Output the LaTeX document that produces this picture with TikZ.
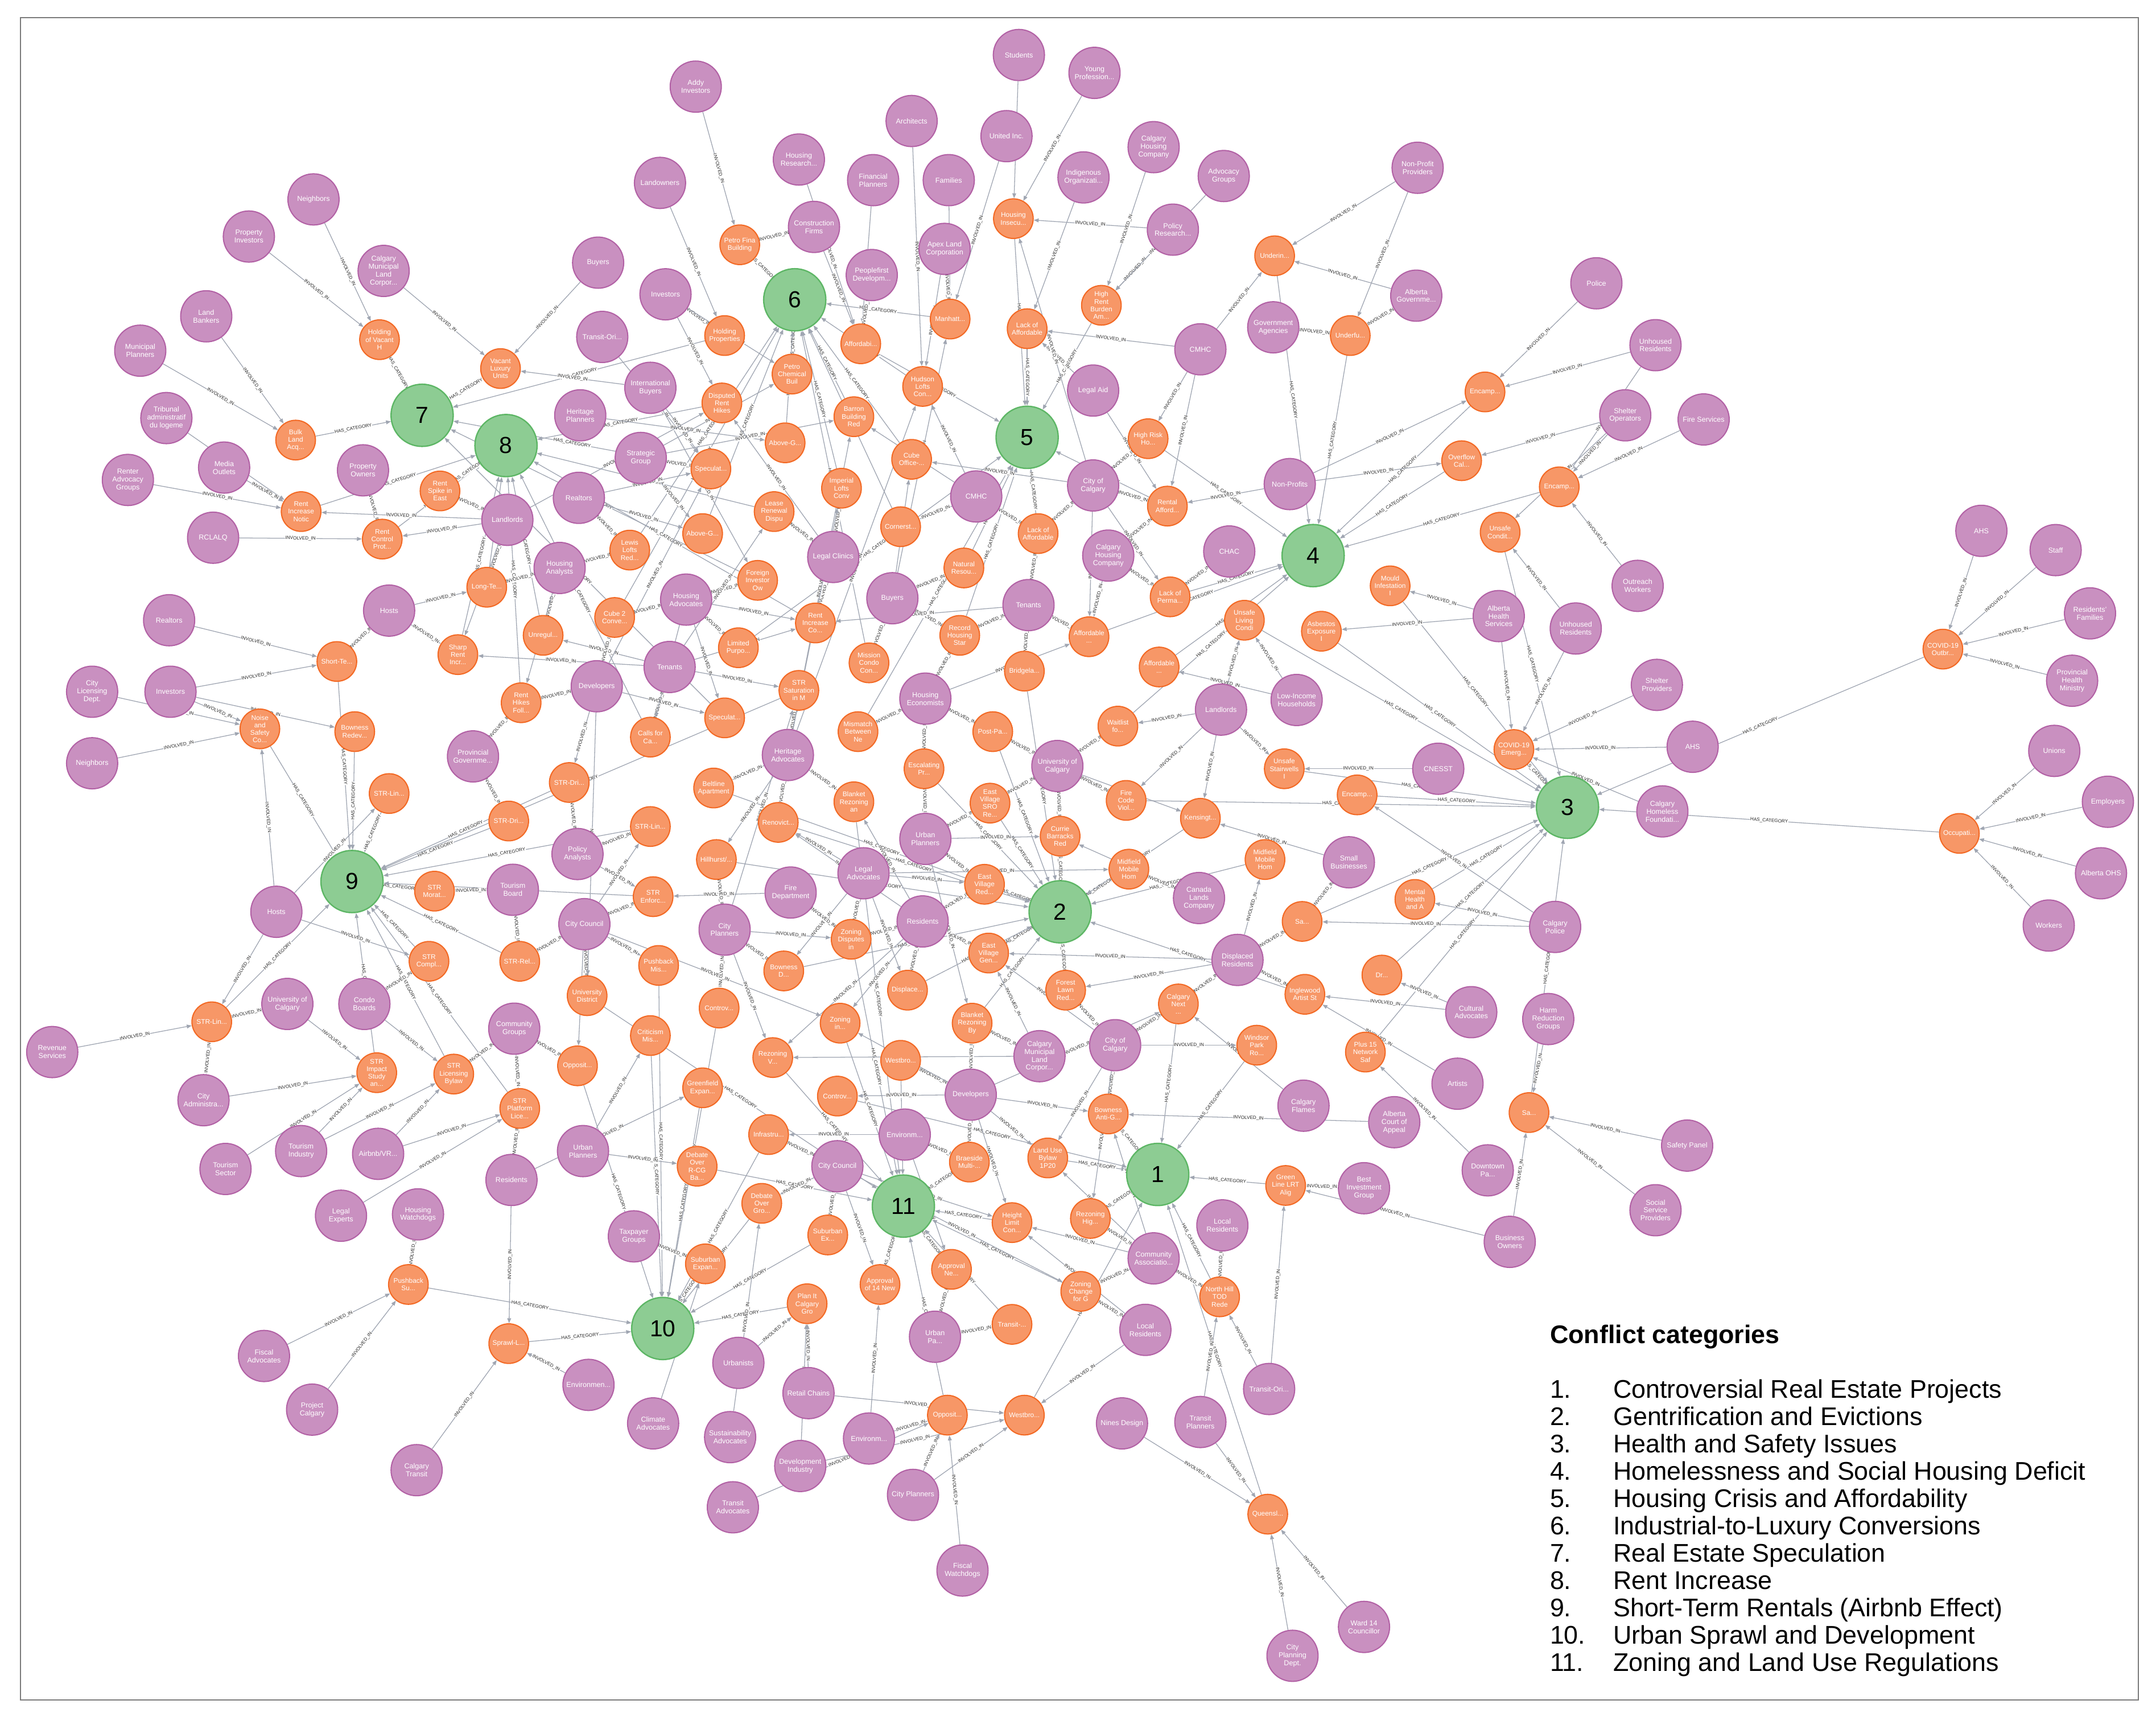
\documentclass[tikz,border=0pt]{standalone}
\usepackage{fontspec}
\setmainfont{Liberation Sans}
\usetikzlibrary{arrows.meta, backgrounds}

\definecolor{ppfill}{HTML}{C990C0}
\definecolor{ppline}{HTML}{B261A5}
\definecolor{oofill}{HTML}{F79767}
\definecolor{ooline}{HTML}{F36924}
\definecolor{catfill}{HTML}{8DCC93}
\definecolor{catline}{HTML}{5DB665}
\definecolor{edgecol}{HTML}{A0A6B2}
\definecolor{framecol}{HTML}{7A7A7A}

\begin{document}
\begin{tikzpicture}[
  x=0.025cm, y=-0.025cm,
  pp/.style={circle, draw=ppline, fill=ppfill, line width=0.6pt, minimum size=9.3mm,
    inner sep=-1.5pt, text=white, align=center, font=\fontsize{3.7}{4.1}\selectfont},
  oo/.style={circle, draw=ooline, fill=oofill, line width=0.6pt, minimum size=7.2mm,
    inner sep=-1.5pt, text=white, align=center, font=\fontsize{3.5}{3.9}\selectfont},
  cat/.style={circle, draw=catline, fill=catfill, line width=0.7pt, minimum size=11.3mm,
    inner sep=0pt, font=\fontsize{12}{12}\selectfont},
  link/.style={draw=edgecol, line width=0.38pt, -{Triangle[length=0.9mm, width=0.7mm]}},
  elbl/.style={sloped, fill=white, inner sep=0.2pt, text=black!85, font=\fontsize{2.4}{2.4}\selectfont},
  legtitle/.style={anchor=base west, inner sep=0pt, font=\fontsize{13.2}{15}\selectfont\bfseries},
  legtext/.style={anchor=base west, inner sep=0pt, font=\fontsize{13.2}{15}\selectfont}
]
\useasboundingbox (0,0) rectangle (1568,1254);
\draw[framecol, line width=0.6pt] (15,13) rectangle (1555,1236);

% categories
\node[cat] (c1) at (842,854) {1};
\node[cat] (c2) at (771,663) {2};
\node[cat] (c3) at (1140,587) {3};
\node[cat] (c4) at (955,404) {4};
\node[cat] (c5) at (747,318) {5};
\node[cat] (c6) at (578,218) {6};
\node[cat] (c7) at (307,302) {7};
\node[cat] (c8) at (368,324) {8};
\node[cat] (c9) at (256,641) {9};
\node[cat] (c10) at (482,966) {10};
\node[cat] (c11) at (657,877) {11};

% actors
\node[pp] (addy) at (506,63) {Addy\\Investors};
\node[pp] (students) at (741,40) {Students};
\node[pp] (youngprof) at (796,53) {Young\\Profession...};
\node[pp] (architects) at (663,88) {Architects};
\node[pp] (unitedinc) at (732,99) {United Inc.};
\node[pp] (housres) at (581,116) {Housing\\Research...};
\node[pp] (landowners) at (480,133) {Landowners};
\node[pp] (finplan) at (635,131) {Financial\\Planners};
\node[pp] (families) at (690,131) {Families};
\node[pp] (chcA) at (839,107) {Calgary\\Housing\\Company};
\node[pp] (indig) at (788,129) {Indigenous\\Organizati...};
\node[pp] (advoc) at (890,128) {Advocacy\\Groups};
\node[pp] (npprov) at (1031,122) {Non-Profit\\Providers};
\node[pp] (neighA) at (228,145) {Neighbors};
\node[pp] (propinv) at (181,172) {Property\\Investors};
\node[pp] (cmlcA) at (279,197) {Calgary\\Municipal\\Land\\Corpor...};
\node[pp] (polres) at (853,167) {Policy\\Research...};
\node[pp] (constr) at (592,165) {Construction\\Firms};
\node[pp] (peoplefirst) at (634,200) {Peoplefirst\\Developm...};
\node[pp] (apex) at (687,181) {Apex Land\\Corporation};
\node[pp] (buyersA) at (435,191) {Buyers};
\node[pp] (investA) at (484,214) {Investors};
\node[pp] (landbank) at (150,230) {Land\\Bankers};
\node[pp] (munplan) at (102,255) {Municipal\\Planners};
\node[pp] (tribunal) at (121,304) {Tribunal\\administratif\\du logeme};
\node[pp] (albgov) at (1030,215) {Alberta\\Governme...};
\node[pp] (govag) at (926,238) {Government\\Agencies};
\node[pp] (cmhcA) at (873,254) {CMHC};
\node[pp] (legalaid) at (795,284) {Legal Aid};
\node[pp] (transitA) at (438,245) {Transit-Ori...};
\node[pp] (intbuy) at (473,282) {International\\Buyers};
\node[pp] (herplan) at (422,302) {Heritage\\Planners};
\node[pp] (media) at (163,340) {Media\\Outlets};
\node[pp] (propown) at (264,342) {Property\\Owners};
\node[pp] (renteradv) at (93,349) {Renter\\Advocacy\\Groups};
\node[pp] (rclalq) at (155,391) {RCLALQ};
\node[pp] (landlordsA) at (369,378) {Landlords};
\node[pp] (realtorsA) at (421,362) {Realtors};
\node[pp] (strategic) at (466,333) {Strategic\\Group};
\node[pp] (cmhcB) at (710,361) {CMHC};
\node[pp] (legalclin) at (606,405) {Legal Clinics};
\node[pp] (cocA) at (795,353) {City of\\Calgary};
\node[pp] (nonprofits) at (938,352) {Non-Profits};
\node[pp] (chac) at (894,401) {CHAC};
\node[pp] (chcB) at (806,404) {Calgary\\Housing\\Company};
\node[pp] (police) at (1161,206) {Police};
\node[pp] (unhousedA) at (1204,251) {Unhoused\\Residents};
\node[pp] (shelterop) at (1182,302) {Shelter\\Operators};
\node[pp] (fireserv) at (1239,305) {Fire Services};
\node[pp] (ahsA) at (1441,386) {AHS};
\node[pp] (staff) at (1495,400) {Staff};
\node[pp] (outreach) at (1191,426) {Outreach\\Workers};
\node[pp] (unhousedB) at (1146,457) {Unhoused\\Residents};
\node[pp] (resfam) at (1520,446) {Residents'\\Families};
\node[pp] (provhealth) at (1507,495) {Provincial\\Health\\Ministry};
\node[pp] (shelterprov) at (1205,498) {Shelter\\Providers};
\node[pp] (ahsB) at (1231,543) {AHS};
\node[pp] (unions) at (1494,546) {Unions};
\node[pp] (employers) at (1533,583) {Employers};
\node[pp] (chf) at (1209,590) {Calgary\\Homeless\\Foundati...};
\node[pp] (albohs) at (1528,635) {Alberta OHS};
\node[pp] (workers) at (1490,673) {Workers};
\node[pp] (calpolice) at (1131,674) {Calgary\\Police};
\node[pp] (harmred) at (1126,741) {Harm\\Reduction\\Groups};
\node[pp] (ahsvc) at (1090,448) {Alberta\\Health\\Services};
\node[pp] (tenantsA) at (748,440) {Tenants};
\node[pp] (landlordsB) at (888,516) {Landlords};
\node[pp] (lowinc) at (943,509) {Low-Income\\Households};
\node[pp] (uofcA) at (769,557) {University of\\Calgary};
\node[pp] (cnesst) at (1046,559) {CNESST};
\node[pp] (smallbiz) at (981,627) {Small\\Businesses};
\node[pp] (canadalands) at (872,653) {Canada\\Lands\\Company};
\node[pp] (displaced) at (900,698) {Displaced\\Residents};
\node[pp] (cultadv) at (1070,736) {Cultural\\Advocates};
\node[pp] (cocB) at (811,760) {City of\\Calgary};
\node[pp] (cmlcB) at (756,768) {Calgary\\Municipal\\Land\\Corpor...};
\node[pp] (artists) at (1060,788) {Artists};
\node[pp] (flames) at (948,804) {Calgary\\Flames};
\node[pp] (housanal) at (407,413) {Housing\\Analysts};
\node[pp] (housadv) at (499,436) {Housing\\Advocates};
\node[pp] (buyersB) at (649,435) {Buyers};
\node[pp] (tenantsB) at (487,485) {Tenants};
\node[pp] (devA) at (434,499) {Developers};
\node[pp] (houseco) at (673,508) {Housing\\Economists};
\node[pp] (heritadv) at (573,549) {Heritage\\Advocates};
\node[pp] (urbplanA) at (673,610) {Urban\\Planners};
\node[pp] (polanal) at (420,621) {Policy\\Analysts};
\node[pp] (legaladv) at (628,635) {Legal\\Advocates};
\node[pp] (firedept) at (575,649) {Fire\\Department};
\node[pp] (citycouncilA) at (425,672) {City Council};
\node[pp] (cityplanA) at (527,676) {City\\Planners};
\node[pp] (residentsA) at (671,670) {Residents};
\node[pp] (devB) at (706,796) {Developers};
\node[pp] (hostsA) at (283,444) {Hosts};
\node[pp] (realtorsB) at (123,451) {Realtors};
\node[pp] (citylic) at (67,503) {City\\Licensing\\Dept.};
\node[pp] (investB) at (124,503) {Investors};
\node[pp] (neighB) at (67,555) {Neighbors};
\node[pp] (provgov) at (344,550) {Provincial\\Governme...};
\node[pp] (tourboard) at (373,647) {Tourism\\Board};
\node[pp] (hostsB) at (201,663) {Hosts};
\node[pp] (uofcB) at (209,730) {University of\\Calgary};
\node[pp] (condo) at (265,730) {Condo\\Boards};
\node[pp] (commgroups) at (374,748) {Community\\Groups};
\node[pp] (revenue) at (38,765) {Revenue\\Services};
\node[pp] (cityadmin) at (148,800) {City\\Administra...};
\node[pp] (tourind) at (219,837) {Tourism\\Industry};
\node[pp] (toursec) at (164,850) {Tourism\\Sector};
\node[pp] (airbnb) at (275,839) {Airbnb/VR...};
\node[pp] (residentsB) at (372,858) {Residents};
\node[pp] (legalexp) at (248,884) {Legal\\Experts};
\node[pp] (watchdogs) at (304,883) {Housing\\Watchdogs};
\node[pp] (fiscaladv) at (192,986) {Fiscal\\Advocates};
\node[pp] (projcal) at (227,1025) {Project\\Calgary};
\node[pp] (caltransit) at (303,1069) {Calgary\\Transit};
\node[pp] (envA) at (428,1007) {Environmen...};
\node[pp] (urbplanB) at (424,837) {Urban\\Planners};
\node[pp] (environmB) at (658,825) {Environm...};
\node[pp] (citycouncilB) at (609,848) {City Council};
\node[pp] (taxpayer) at (461,899) {Taxpayer\\Groups};
\node[pp] (urbanpa) at (680,972) {Urban\\Pa...};
\node[pp] (urbanists) at (537,991) {Urbanists};
\node[pp] (retail) at (588,1013) {Retail Chains};
\node[pp] (climate) at (475,1035) {Climate\\Advocates};
\node[pp] (sustain) at (531,1045) {Sustainability\\Advocates};
\node[pp] (environmC) at (632,1046) {Environm...};
\node[pp] (devind) at (582,1066) {Development\\Industry};
\node[pp] (cityplanB) at (664,1087) {City Planners};
\node[pp] (transitadv) at (533,1096) {Transit\\Advocates};
\node[pp] (fiscalwd) at (700,1142) {Fiscal\\Watchdogs};
\node[pp] (appeal) at (1014,816) {Alberta\\Court of\\Appeal};
\node[pp] (bestinv) at (992,864) {Best\\Investment\\Group};
\node[pp] (downtown) at (1082,851) {Downtown\\Pa...};
\node[pp] (bizowners) at (1098,903) {Business\\Owners};
\node[pp] (localresA) at (889,891) {Local\\Residents};
\node[pp] (commassoc) at (839,915) {Community\\Associatio...};
\node[pp] (localresB) at (833,967) {Local\\Residents};
\node[pp] (transitB) at (923,1010) {Transit-Ori...};
\node[pp] (nines) at (816,1035) {Nines Design};
\node[pp] (transplan) at (873,1034) {Transit\\Planners};
\node[pp] (ward14) at (992,1183) {Ward 14\\Councillor};
\node[pp] (cpd) at (940,1204) {City\\Planning\\Dept.};
\node[pp] (safety) at (1227,833) {Safety Panel};
\node[pp] (socserv) at (1204,880) {Social\\Service\\Providers};

% conflicts
\node[oo] (petrofina) at (538,178) {Petro Fina\\Building};
\node[oo] (housinsec) at (737,159) {Housing\\Insecu...};
\node[oo] (holdvac) at (276,247) {Holding\\of Vacant\\H};
\node[oo] (vaclux) at (364,268) {Vacant\\Luxury\\Units};
\node[oo] (underin) at (927,186) {Underin...};
\node[oo] (underfu) at (982,244) {Underfu...};
\node[oo] (highrent) at (801,222) {High\\Rent\\Burden\\Am...};
\node[oo] (lackaffA) at (747,239) {Lack of\\Affordable};
\node[oo] (manhatt) at (691,232) {Manhatt...};
\node[oo] (affordabi) at (626,250) {Affordabi...};
\node[oo] (holdprop) at (527,244) {Holding\\Properties};
\node[oo] (petrochem) at (576,272) {Petro\\Chemical\\Buil};
\node[oo] (hudson) at (671,281) {Hudson\\Lofts\\Con...};
\node[oo] (disputed) at (525,293) {Disputed\\Rent\\Hikes};
\node[oo] (barron) at (621,303) {Barron\\Building\\Red};
\node[oo] (bulkland) at (215,320) {Bulk\\Land\\Acq...};
\node[oo] (rentincnot) at (219,372) {Rent\\Increase\\Notic};
\node[oo] (rentctrl) at (278,392) {Rent\\Control\\Prot...};
\node[oo] (rentspike) at (320,357) {Rent\\Spike in\\East};
\node[oo] (abovegA) at (571,322) {Above-G...};
\node[oo] (speculA) at (517,341) {Speculat...};
\node[oo] (cubeoffice) at (663,334) {Cube\\Office-...};
\node[oo] (imperial) at (612,355) {Imperial\\Lofts\\Conv};
\node[oo] (lease) at (563,372) {Lease\\Renewal\\Dispu};
\node[oo] (abovegB) at (511,388) {Above-G...};
\node[oo] (cornerst) at (655,383) {Cornerst...};
\node[oo] (lackaffB) at (755,388) {Lack of\\Affordable};
\node[oo] (natres) at (701,413) {Natural\\Resou...};
\node[oo] (highrisk) at (835,319) {High Risk\\Ho...};
\node[oo] (rentalaff) at (849,368) {Rental\\Afford...};
\node[oo] (lackperma) at (851,434) {Lack of\\Perma...};
\node[oo] (encampA) at (1080,285) {Encamp...};
\node[oo] (overflow) at (1063,335) {Overflow\\Cal...};
\node[oo] (encampB) at (1134,354) {Encamp...};
\node[oo] (unsafecond) at (1091,387) {Unsafe\\Condit...};
\node[oo] (covidout) at (1413,472) {COVID-19\\Outbr...};
\node[oo] (occup) at (1425,606) {Occupati...};
\node[oo] (mould) at (1011,426) {Mould\\Infestation\\I};
\node[oo] (unsafeliv) at (905,451) {Unsafe\\Living\\Condi};
\node[oo] (asbestos) at (961,459) {Asbestos\\Exposure\\I};
\node[oo] (affordA) at (792,463) {Affordable\\...};
\node[oo] (affordB) at (843,485) {Affordable\\...};
\node[oo] (bridgela) at (745,488) {Bridgela...};
\node[oo] (waitlist) at (813,528) {Waitlist\\fo...};
\node[oo] (covidemerg) at (1101,545) {COVID-19\\Emerg...};
\node[oo] (stairwells) at (934,559) {Unsafe\\Stairwells\\I};
\node[oo] (firecode) at (819,582) {Fire\\Code\\Viol...};
\node[oo] (encampC) at (987,578) {Encamp...};
\node[oo] (kensingt) at (873,595) {Kensingt...};
\node[oo] (currieA) at (771,608) {Currie\\Barracks\\Red};
\node[oo] (midfieldA) at (920,625) {Midfield\\Mobile\\Hom};
\node[oo] (midfieldB) at (821,632) {Midfield\\Mobile\\Hom};
\node[oo] (mental) at (1029,654) {Mental\\Health\\and A};
\node[oo] (saA) at (947,670) {Sa...};
\node[oo] (dr) at (1005,709) {Dr...};
\node[oo] (forestlawn) at (775,720) {Forest\\Lawn\\Red...};
\node[oo] (calnext) at (857,730) {Calgary\\Next\\...};
\node[oo] (inglewood) at (949,723) {Inglewood\\Artist St};
\node[oo] (windsor) at (914,760) {Windsor\\Park\\Ro...};
\node[oo] (plus15) at (993,765) {Plus 15\\Network\\Saf};
\node[oo] (lewis) at (458,400) {Lewis\\Lofts\\Red...};
\node[oo] (foreign) at (551,422) {Foreign\\Investor\\Ow};
\node[oo] (cube2) at (447,449) {Cube 2\\Conve...};
\node[oo] (unregul) at (395,462) {Unregul...};
\node[oo] (rentincco) at (593,453) {Rent\\Increase\\Co...};
\node[oo] (record) at (698,462) {Record\\Housing\\Star};
\node[oo] (limited) at (537,471) {Limited\\Purpo...};
\node[oo] (mission) at (632,482) {Mission\\Condo\\Con...};
\node[oo] (renthikes) at (379,511) {Rent\\Hikes\\Foll...};
\node[oo] (strsat) at (581,502) {STR\\Saturation\\in M};
\node[oo] (speculB) at (527,522) {Speculat...};
\node[oo] (mismatch) at (624,532) {Mismatch\\Between\\Ne};
\node[oo] (postpa) at (722,532) {Post-Pa...};
\node[oo] (callsfor) at (473,536) {Calls for\\Ca...};
\node[oo] (escal) at (672,559) {Escalating\\Pr...};
\node[oo] (strdriA) at (414,569) {STR-Dri...};
\node[oo] (beltline) at (519,573) {Beltline\\Apartment};
\node[oo] (blanketA) at (621,583) {Blanket\\Rezoning\\an};
\node[oo] (evsro) at (720,584) {East\\Village\\SRO\\Re...};
\node[oo] (renovict) at (566,598) {Renovict...};
\node[oo] (strlinA) at (473,601) {STR-Lin...};
\node[oo] (hillhurst) at (521,625) {Hillhurst/...};
\node[oo] (evred) at (716,643) {East\\Village\\Red...};
\node[oo] (strenf) at (475,652) {STR\\Enforc...};
\node[oo] (zondisp) at (619,683) {Zoning\\Disputes\\in};
\node[oo] (evgen) at (719,693) {East\\Village\\Gen...};
\node[oo] (pushmis) at (479,702) {Pushback\\Mis...};
\node[oo] (bownessD) at (570,706) {Bowness\\D...};
\node[oo] (displace) at (660,720) {Displace...};
\node[oo] (unidist) at (427,724) {University\\District};
\node[oo] (controvA) at (523,733) {Controv...};
\node[oo] (zoningin) at (611,744) {Zoning\\in...};
\node[oo] (blanketB) at (707,744) {Blanket\\Rezoning\\By};
\node[oo] (criticism) at (473,753) {Criticism\\Mis...};
\node[oo] (rezoningV) at (562,769) {Rezoning\\V...};
\node[oo] (westbroA) at (655,771) {Westbro...};
\node[oo] (opposA) at (420,775) {Opposit...};
\node[oo] (greenfield) at (511,791) {Greenfield\\Expan...};
\node[oo] (controvB) at (609,797) {Controv...};
\node[oo] (longte) at (354,427) {Long-Te...};
\node[oo] (shortte) at (245,481) {Short-Te...};
\node[oo] (sharp) at (333,476) {Sharp\\Rent\\Incr...};
\node[oo] (noise) at (189,530) {Noise\\and\\Safety\\Co...};
\node[oo] (bownessR) at (258,532) {Bowness\\Redev...};
\node[oo] (strlinB) at (283,577) {STR-Lin...};
\node[oo] (strdriB) at (370,597) {STR-Dri...};
\node[oo] (strmorat) at (316,648) {STR\\Morat...};
\node[oo] (strcompl) at (312,699) {STR\\Compl...};
\node[oo] (strrel) at (378,699) {STR-Rel...};
\node[oo] (strlinC) at (154,743) {STR-Lin...};
\node[oo] (strimpact) at (274,780) {STR\\Impact\\Study\\an...};
\node[oo] (strlicby) at (330,781) {STR\\Licensing\\Bylaw};
\node[oo] (strplat) at (378,806) {STR\\Platform\\Lice...};
\node[oo] (pushsu) at (297,934) {Pushback\\Su...};
\node[oo] (sprawl) at (370,977) {Sprawl-L...};
\node[oo] (infra) at (559,825) {Infrastru...};
\node[oo] (debatercg) at (507,848) {Debate\\Over\\R-CG\\Ba...};
\node[oo] (braeside) at (705,845) {Braeside\\Multi-...};
\node[oo] (landuse) at (762,842) {Land Use\\Bylaw\\1P20};
\node[oo] (debategro) at (554,875) {Debate\\Over\\Gro...};
\node[oo] (suburbEx) at (602,898) {Suburban\\Ex...};
\node[oo] (heightlim) at (736,889) {Height\\Limit\\Con...};
\node[oo] (suburbExpan) at (513,919) {Suburban\\Expan...};
\node[oo] (approvalNe) at (692,923) {Approval\\Ne...};
\node[oo] (approval14) at (640,934) {Approval\\of 14 New};
\node[oo] (planit) at (587,948) {Plan It\\Calgary\\Gro};
\node[oo] (transitO) at (736,963) {Transit-...};
\node[oo] (opposB) at (689,1029) {Opposit...};
\node[oo] (westbroB) at (745,1029) {Westbro...};
\node[oo] (bownessAG) at (806,810) {Bowness\\Anti-G...};
\node[oo] (greenline) at (935,862) {Green\\Line LRT\\Alig};
\node[oo] (rezhig) at (793,886) {Rezoning\\Hig...};
\node[oo] (zonchange) at (786,939) {Zoning\\Change\\for G};
\node[oo] (northhill) at (887,943) {North Hill\\TOD\\Rede};
\node[oo] (queensl) at (922,1101) {Queensl...};
\node[oo] (saB) at (1112,809) {Sa...};

\begin{scope}[on background layer]
\foreach \o/\c in {bownessAG/c1, landuse/c1, rezhig/c1, greenline/c1, northhill/c1, queensl/c1,
  calnext/c1, windsor/c1, westbroB/c1, controvB/c1,
  evsro/c2, evred/c2, evgen/c2, currieA/c2, forestlawn/c2, midfieldA/c2, midfieldB/c2, kensingt/c2,
  inglewood/c2, bridgela/c2, displace/c2, renovict/c2, hillhurst/c2, bownessD/c2, beltline/c2,
  blanketB/c2, postpa/c2, escal/c2,
  covidout/c3, occup/c3, covidemerg/c3, mould/c3, asbestos/c3, unsafeliv/c3, stairwells/c3,
  firecode/c3, encampC/c3, mental/c3, saA/c3, dr/c3, saB/c3, unsafecond/c3, plus15/c3,
  encampA/c4, encampB/c4, overflow/c4, underin/c4, underfu/c4, lackperma/c4, waitlist/c4,
  affordA/c4, affordB/c4, highrisk/c4,
  lackaffA/c5, lackaffB/c5, highrent/c5, housinsec/c5, rentalaff/c5, record/c5, natres/c5,
  mismatch/c5, limited/c5, affordabi/c5,
  petrofina/c6, petrochem/c6, barron/c6, hudson/c6, manhatt/c6, cubeoffice/c6, imperial/c6,
  cube2/c6, lewis/c6, abovegA/c6, abovegB/c6, mission/c6, cornerst/c6,
  holdvac/c7, vaclux/c7, bulkland/c7, holdprop/c7, speculA/c7, speculB/c7, foreign/c7,
  rentincnot/c8, rentctrl/c8, rentspike/c8, disputed/c8, lease/c8, rentincco/c8, sharp/c8,
  renthikes/c8, longte/c8, unregul/c8, callsfor/c8,
  shortte/c9, noise/c9, bownessR/c9, strlinA/c9, strlinB/c9, strlinC/c9, strdriA/c9, strdriB/c9,
  strmorat/c9, strcompl/c9, strrel/c9, strimpact/c9, strlicby/c9, strplat/c9, strenf/c9, strsat/c9,
  pushsu/c10, sprawl/c10, suburbExpan/c10, suburbEx/c10, debategro/c10, planit/c10, greenfield/c10,
  infra/c10, opposA/c10, criticism/c10, pushmis/c10, controvA/c10,
  approval14/c11, approvalNe/c11, heightlim/c11, zonchange/c11, zoningin/c11, zondisp/c11,
  blanketA/c11, rezoningV/c11, braeside/c11, debatercg/c11, unidist/c11, opposB/c11,
  westbroA/c11, transitO/c11}
  \draw[link] (\o) -- node[elbl]{HAS\_CATEGORY} (\c);

\foreach \a/\b in {addy/petrofina, constr/petrofina, constr/affordabi, housres/affordabi,
  finplan/affordabi, peoplefirst/affordabi, architects/hudson, families/manhatt, apex/manhatt,
  apex/hudson, unitedinc/manhatt, students/housinsec, youngprof/housinsec, polres/housinsec,
  polres/highrent, indig/lackaffA, chcA/highrent, advoc/highrent, npprov/underin, npprov/underfu,
  albgov/underin, albgov/underfu, govag/underfu, cmhcA/underin, cmhcA/lackaffA, cmhcA/highrisk,
  cmhcA/rentalaff, legalaid/lackaffA, legalaid/rentalaff, landowners/holdprop, buyersA/vaclux,
  investA/holdprop, investA/disputed, transitA/speculA, intbuy/speculA, intbuy/foreign,
  herplan/abovegA, strategic/petrochem, strategic/barron, strategic/abovegB, realtorsA/abovegB,
  realtorsA/lewis, housanal/lewis, neighA/holdvac, propinv/holdvac, cmlcA/vaclux,
  landbank/bulkland, munplan/bulkland, tribunal/rentincnot, media/rentincnot,
  renteradv/rentincnot, rclalq/rentctrl, propown/rentctrl, landlordsA/rentspike,
  landlordsA/rentctrl, landlordsA/rentincnot, landlordsA/disputed,
  police/encampA, unhousedA/encampA, unhousedA/encampB, shelterop/encampB, shelterop/overflow,
  shelterop/unsafecond, fireserv/encampB, outreach/encampB, unhousedB/unsafecond,
  unhousedB/covidemerg, ahsA/covidout, staff/covidout, resfam/covidout, provhealth/covidout,
  ahsB/covidemerg, unions/occup, employers/occup, albohs/occup, workers/occup, chf/covidemerg,
  shelterprov/covidemerg, calpolice/saA, calpolice/mental, calpolice/encampC, harmred/saB,
  safety/saB, socserv/saB, bizowners/saB, bizowners/greenline, downtown/plus15,
  appeal/bownessAG, bestinv/greenline, flames/calnext, artists/inglewood, cultadv/inglewood,
  cultadv/dr, ward14/queensl, cpd/queensl, nines/queensl, transplan/queensl, transplan/northhill,
  transitB/greenline, transitB/northhill, localresA/northhill, commassoc/zonchange,
  commassoc/rezhig, commassoc/northhill, commassoc/heightlim, localresB/zonchange,
  localresB/westbroB, lowinc/unsafeliv, lowinc/affordB, landlordsB/unsafeliv,
  landlordsB/stairwells, landlordsB/waitlist, landlordsB/kensingt, landlordsB/firecode,
  cnesst/stairwells, smallbiz/saA, smallbiz/kensingt, canadalands/currieA, canadalands/midfieldB,
  displaced/midfieldA, displaced/calnext, displaced/inglewood, displaced/saA, ahsvc/mould,
  ahsvc/asbestos, ahsvc/covidemerg, chac/lackperma, chcB/affordA, chcB/lackperma, chcB/rentalaff,
  nonprofits/overflow, nonprofits/rentalaff, nonprofits/encampA, cocA/lackaffB, cocA/highrisk,
  cocA/rentalaff, cocA/affordA, cocA/cubeoffice, cmhcB/lackaffB, cmhcB/cornerst, cmhcB/barron,
  tenantsA/lackaffB, tenantsA/affordA, tenantsA/bridgela, legalclin/rentincco, legalclin/lease,
  legalclin/imperial, uofcA/currieA, uofcA/waitlist, uofcA/firecode, uofcA/postpa,
  cocB/forestlawn, cocB/calnext, cocB/windsor, cocB/bownessAG, cmlcB/evgen, cmlcB/blanketB,
  cmlcB/rezoningV, houseco/record, houseco/mismatch, houseco/escal, houseco/postpa,
  buyersB/natres, buyersB/record, buyersB/mission, housadv/cube2, housadv/foreign,
  housadv/limited, housadv/speculB, tenantsB/rentincco, tenantsB/callsfor, tenantsB/unregul,
  tenantsB/strsat, devA/cube2, devA/renthikes, devA/strdriA, devA/speculB, housanal/longte,
  housanal/unregul, heritadv/beltline, heritadv/blanketA, heritadv/renovict, heritadv/strsat,
  heritadv/hillhurst, urbplanA/evsro, urbplanA/evred, urbplanA/escal, polanal/strdriA,
  polanal/strlinA, polanal/strenf, legaladv/renovict, legaladv/zondisp, legaladv/evred,
  legaladv/bownessD, firedept/zondisp, firedept/strenf, citycouncilA/strenf, citycouncilA/unidist,
  citycouncilA/strrel, citycouncilA/pushmis, citycouncilA/opposA, cityplanA/controvA,
  cityplanA/zondisp, cityplanA/hillhurst, cityplanA/bownessD, residentsA/displace,
  residentsA/evgen, residentsA/zondisp, residentsA/evred, residentsA/zoningin,
  residentsA/rezoningV, devB/blanketB, devB/westbroA, devB/braeside, devB/landuse, devB/controvB,
  devB/zoningin, devB/heightlim, hostsA/shortte, hostsA/sharp, hostsA/longte, realtorsB/shortte,
  investB/shortte, investB/noise, investB/bownessR, citylic/noise, neighB/noise, provgov/strdriB,
  provgov/renthikes, tourboard/strmorat, tourboard/strrel, hostsB/noise, hostsB/strlinC,
  hostsB/strcompl, hostsB/strlinB, uofcB/strlinC, uofcB/strimpact, condo/strcompl, condo/strlicby,
  commgroups/strlicby, commgroups/strplat, commgroups/opposA, revenue/strlinC,
  cityadmin/strimpact, cityadmin/strlinC, tourind/strlicby, tourind/strimpact,
  toursec/strimpact, airbnb/strplat, airbnb/strlicby, residentsB/strplat, residentsB/sprawl,
  residentsB/greenfield, legalexp/strplat, watchdogs/pushsu, fiscaladv/pushsu, projcal/pushsu,
  caltransit/sprawl, envA/sprawl, urbplanB/debatercg, urbplanB/criticism, environmB/infra,
  environmB/approvalNe, environmB/braeside, citycouncilB/debategro, citycouncilB/suburbEx,
  citycouncilB/approval14, citycouncilB/infra, taxpayer/suburbExpan, urbanpa/approvalNe,
  urbanpa/transitO, urbanists/planit, retail/planit, retail/westbroB, climate/suburbExpan,
  sustain/debategro, environmC/approval14, environmC/opposB, devind/planit, devind/westbroB,
  cityplanB/opposB, cityplanB/westbroB, transitadv/opposB, fiscalwd/opposB,
  devB/bownessAG, devB/calnext, devA/unidist, devA/speculA, citycouncilA/strlinA,
  citycouncilA/zoningin, citycouncilB/zonchange, citycouncilB/heightlim, cocB/rezhig,
  cocB/landuse, cocB/evgen, cocA/housinsec, cocA/lackperma, residentsA/blanketA,
  residentsA/renovict, tenantsB/lease, tenantsB/sharp, tenantsA/rentincco, tenantsA/record,
  houseco/affordA, heritadv/hudson, heritadv/barron, heritadv/imperial, urbplanA/blanketB,
  urbplanA/currieA, legaladv/displace, legaladv/midfieldB, cityplanA/rezoningV,
  cityplanA/strsat, buyersB/cubeoffice, buyersB/manhatt, cmhcB/hudson, legalclin/disputed,
  housadv/rentincco, housadv/callsfor, housanal/renthikes, landlordsA/longte, landlordsA/sharp,
  realtorsA/speculA, strategic/speculA, investA/petrochem, intbuy/vaclux, uofcA/evsro,
  uofcA/kensingt, displaced/evgen, displaced/forestlawn, commassoc/landuse,
  commassoc/bownessAG, localresB/heightlim}
  \draw[link] (\a) -- node[elbl]{INVOLVED\_IN} (\b);
\end{scope}

% legend
\node[legtitle] (legtitle) at (1127,977) {Conflict categories};
\foreach \i/\t in {1/Controversial Real Estate Projects, 2/Gentrification and Evictions,
  3/Health and Safety Issues, 4/Homelessness and Social Housing Deficit,
  5/Housing Crisis and Affordability, 6/Industrial-to-Luxury Conversions,
  7/Real Estate Speculation, 8/Rent Increase, 9/Short-Term Rentals (Airbnb Effect),
  10/Urban Sprawl and Development, 11/Zoning and Land Use Regulations}{
  \node[legtext] (legn\i) at ({1127},{1016.5+19.88*(\i-1)}) {\i.};
  \node[legtext] (legt\i) at ({1173},{1016.5+19.88*(\i-1)}) {\t};
}
\end{tikzpicture}
\end{document}
